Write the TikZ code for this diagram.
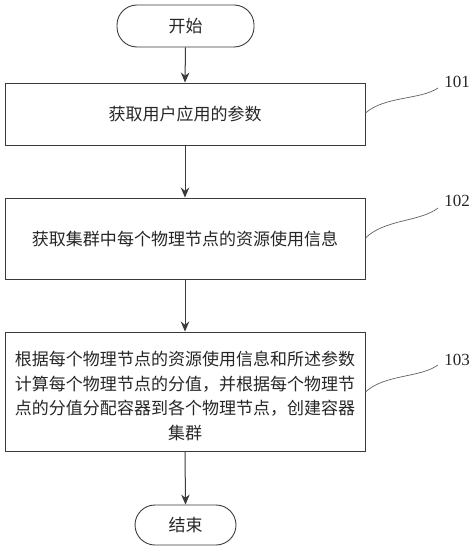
\documentclass[tikz,border=0pt]{standalone}
\usepackage{fontspec}
\setmainfont{Liberation Serif}
\newfontfamily\cjk{Noto Sans CJK SC}
\usetikzlibrary{arrows.meta}
\definecolor{linegray}{HTML}{3A3A3A}
\tikzset{
  stepbox/.style={draw=linegray, line width=0.9bp, rectangle, minimum width=360bp, align=center, inner sep=0pt,
    font=\cjk\fontsize{17bp}{24.7bp}\selectfont, text=black!85},
  steptext/.style={align=center, inner sep=0pt, text width=345bp,
    font=\cjk\fontsize{17bp}{24.7bp}\selectfont, text=black!85},
  termbox/.style={draw=linegray, line width=0.9bp, rectangle, rounded corners=20bp, inner sep=0pt,
    font=\cjk\fontsize{17bp}{20bp}\selectfont, text=black!85},
  flowarrow/.style={draw=linegray, line width=1bp, -{Stealth[length=10bp,width=8.5bp]}},
  leader/.style={draw=linegray!80, line width=0.7bp},
  numlabel/.style={font=\fontsize{17bp}{20bp}\selectfont, text=black!85, inner sep=0pt}
}
\begin{document}
\begin{tikzpicture}[x=1bp,y=-1bp]
\useasboundingbox (0,0) rectangle (474,550);
\node[termbox, minimum width=137bp, minimum height=42bp] (start) at (185.5,26) {开始};
\node[stepbox, minimum height=62bp] (s1) at (185,114) {获取用户应用的参数};
\node[stepbox, minimum height=81bp] (s2) at (185,238.5) {获取集群中每个物理节点的资源使用信息};
\node[stepbox, minimum height=119bp] (s3) at (185,391.5) {};
\node[steptext] (s3t) at (185,396) {根据每个物理节点的资源使用信息和所述参数\\计算每个物理节点的分值，并根据每个物理节\\点的分值分配容器到各个物理节点，创建容器\\集群};
\node[termbox, minimum width=101bp, minimum height=40bp] (end) at (185.5,525) {结束};

\draw[flowarrow] (start.south) -- (s1.north);
\draw[flowarrow] (s1.south) -- (s2.north);
\draw[flowarrow] (s2.south) -- (s3.north);
\draw[flowarrow] (s3.south) -- (end.north);

\node[numlabel] (n1) at (457,82) {101};
\node[numlabel] (n2) at (457,201) {102};
\node[numlabel] (n3) at (457,360) {103};
\coordinate (e1) at (438,88);
\coordinate (e2) at (438,208);
\coordinate (e3) at (438,365);
\draw[leader] (s1.east |- 0,113) .. controls (385,96) and (420,100) .. (e1);
\draw[leader] (s2.east |- 0,238) .. controls (385,219) and (420,222) .. (e2);
\draw[leader] (s3.east |- 0,392) .. controls (385,374) and (420,378) .. (e3);
\end{tikzpicture}
\end{document}
